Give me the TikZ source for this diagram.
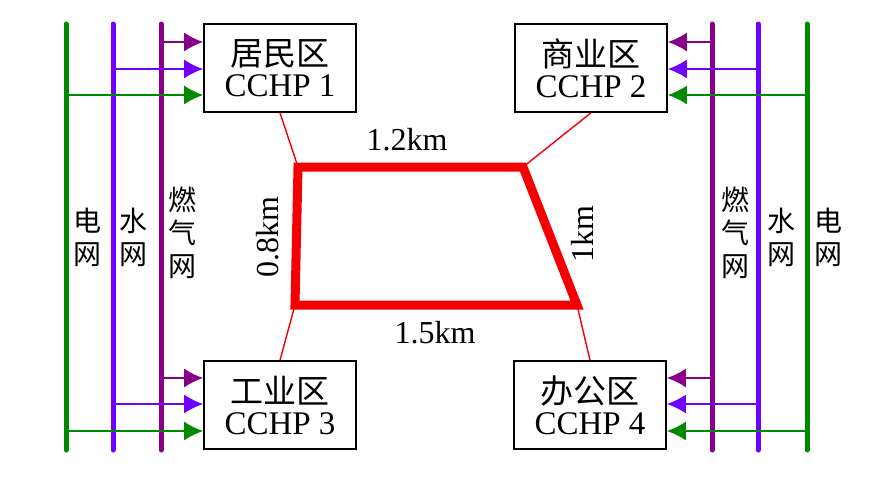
\documentclass[tikz,border=0pt]{standalone}
\usepackage{fontspec}
\setmainfont{Liberation Serif}
\newfontfamily\cjk{Noto Sans CJK SC}
\usepackage{tikz}
\usetikzlibrary{arrows.meta}
\definecolor{elec}{RGB}{0,138,0}
\definecolor{water}{RGB}{112,0,255}
\definecolor{gas}{RGB}{135,0,135}
\definecolor{tie}{RGB}{245,0,0}
\tikzstyle{zone} = [rectangle, minimum width=152pt, minimum height=88pt, inner sep=0pt, text centered, align=center, draw=black, line width=1.6pt, fill=white, font=\fontsize{33}{31}\selectfont]
\tikzstyle{bus} = [line width=5pt, line cap=round]
\tikzstyle{feed} = [line width=2pt, -{Latex[length=19pt,width=19pt]}]
\tikzstyle{busname} = [align=center, inner sep=0pt, font=\cjk\fontsize{28}{33}\selectfont]
\tikzstyle{dist} = [inner sep=0pt, text=black, font=\fontsize{32}{34}\selectfont]
\tikzstyle{ring} = [draw=tie, line width=9pt]
\tikzstyle{link} = [draw=tie, line width=1.4pt]

\begin{document}
\begin{tikzpicture}[x=1pt, y=-1pt]
        \useasboundingbox (0,0) rectangle (877,477);

        % CCHP zones
        \node (res) [zone] at (280,68) {{\cjk 居民区}\\CCHP 1};
        \node (com) [zone] at (591,68) {{\cjk 商业区}\\CCHP 2};
        \node (ind) [zone] at (280,405) {{\cjk 工业区}\\CCHP 3};
        \node (off) [zone] at (590,405) {{\cjk 办公区}\\CCHP 4};

        % buses, left side
        \coordinate (eL1) at (66,24);  \coordinate (eL2) at (66,450);
        \coordinate (wL1) at (113,24); \coordinate (wL2) at (113,450);
        \coordinate (gL1) at (161,24); \coordinate (gL2) at (161,450);
        % buses, right side
        \coordinate (gR1) at (712,24); \coordinate (gR2) at (712,450);
        \coordinate (wR1) at (758,24); \coordinate (wR2) at (758,450);
        \coordinate (eR1) at (807,24); \coordinate (eR2) at (807,450);

        \draw [bus, elec] (eL1) -- (eL2);
        \draw [bus, water] (wL1) -- (wL2);
        \draw [bus, gas] (gL1) -- (gL2);
        \draw [bus, gas] (gR1) -- (gR2);
        \draw [bus, water] (wR1) -- (wR2);
        \draw [bus, elec] (eR1) -- (eR2);

        \node (eLname) [busname] at (87,237) {电\\网};
        \node (wLname) [busname] at (133,237) {水\\网};
        \node (gLname) [busname] at (182,233) {燃\\气\\网};
        \node (gRname) [busname] at (735,233) {燃\\气\\网};
        \node (wRname) [busname] at (781,237) {水\\网};
        \node (eRname) [busname] at (828,237) {电\\网};

        % taps
        \coordinate (tg1) at (161,42);  \coordinate (tw1) at (113,69);  \coordinate (te1) at (66,95);
        \coordinate (tg3) at (161,378); \coordinate (tw3) at (113,404); \coordinate (te3) at (66,431);
        \coordinate (tg2) at (712,42);  \coordinate (tw2) at (758,69);  \coordinate (te2) at (807,95);
        \coordinate (tg4) at (712,378); \coordinate (tw4) at (758,404); \coordinate (te4) at (807,431);

        \draw [feed, gas] (tg1) -- (tg1 -| res.west);
        \draw [feed, water] (tw1) -- (tw1 -| res.west);
        \draw [feed, elec] (te1) -- (te1 -| res.west);
        \draw [feed, gas] (tg3) -- (tg3 -| ind.west);
        \draw [feed, water] (tw3) -- (tw3 -| ind.west);
        \draw [feed, elec] (te3) -- (te3 -| ind.west);
        \draw [feed, gas] (tg2) -- (tg2 -| com.east);
        \draw [feed, water] (tw2) -- (tw2 -| com.east);
        \draw [feed, elec] (te2) -- (te2 -| com.east);
        \draw [feed, gas] (tg4) -- (tg4 -| off.east);
        \draw [feed, water] (tw4) -- (tw4 -| off.east);
        \draw [feed, elec] (te4) -- (te4 -| off.east);

        % tie lines
        \coordinate (A) at (298,167);
        \coordinate (B) at (523,167);
        \coordinate (C) at (577,305);
        \coordinate (D) at (295,305);
        \draw [link] (res.south) -- (A);
        \draw [link] (com.south) -- (B);
        \draw [link] (off.north) -- (C);
        \draw [link] (ind.north) -- (D);
        \draw [ring] (A) -- (B) -- (C) -- (D) -- cycle;

        \node (lenAB) [dist] at (407,140) {1.2km};
        \node (lenDC) [dist] at (435,333) {1.5km};
        \node (lenAD) [dist, rotate=90] at (268,237) {0.8km};
        \node (lenBC) [dist, rotate=90] at (582,234) {1km};
    \end{tikzpicture}
\end{document}
